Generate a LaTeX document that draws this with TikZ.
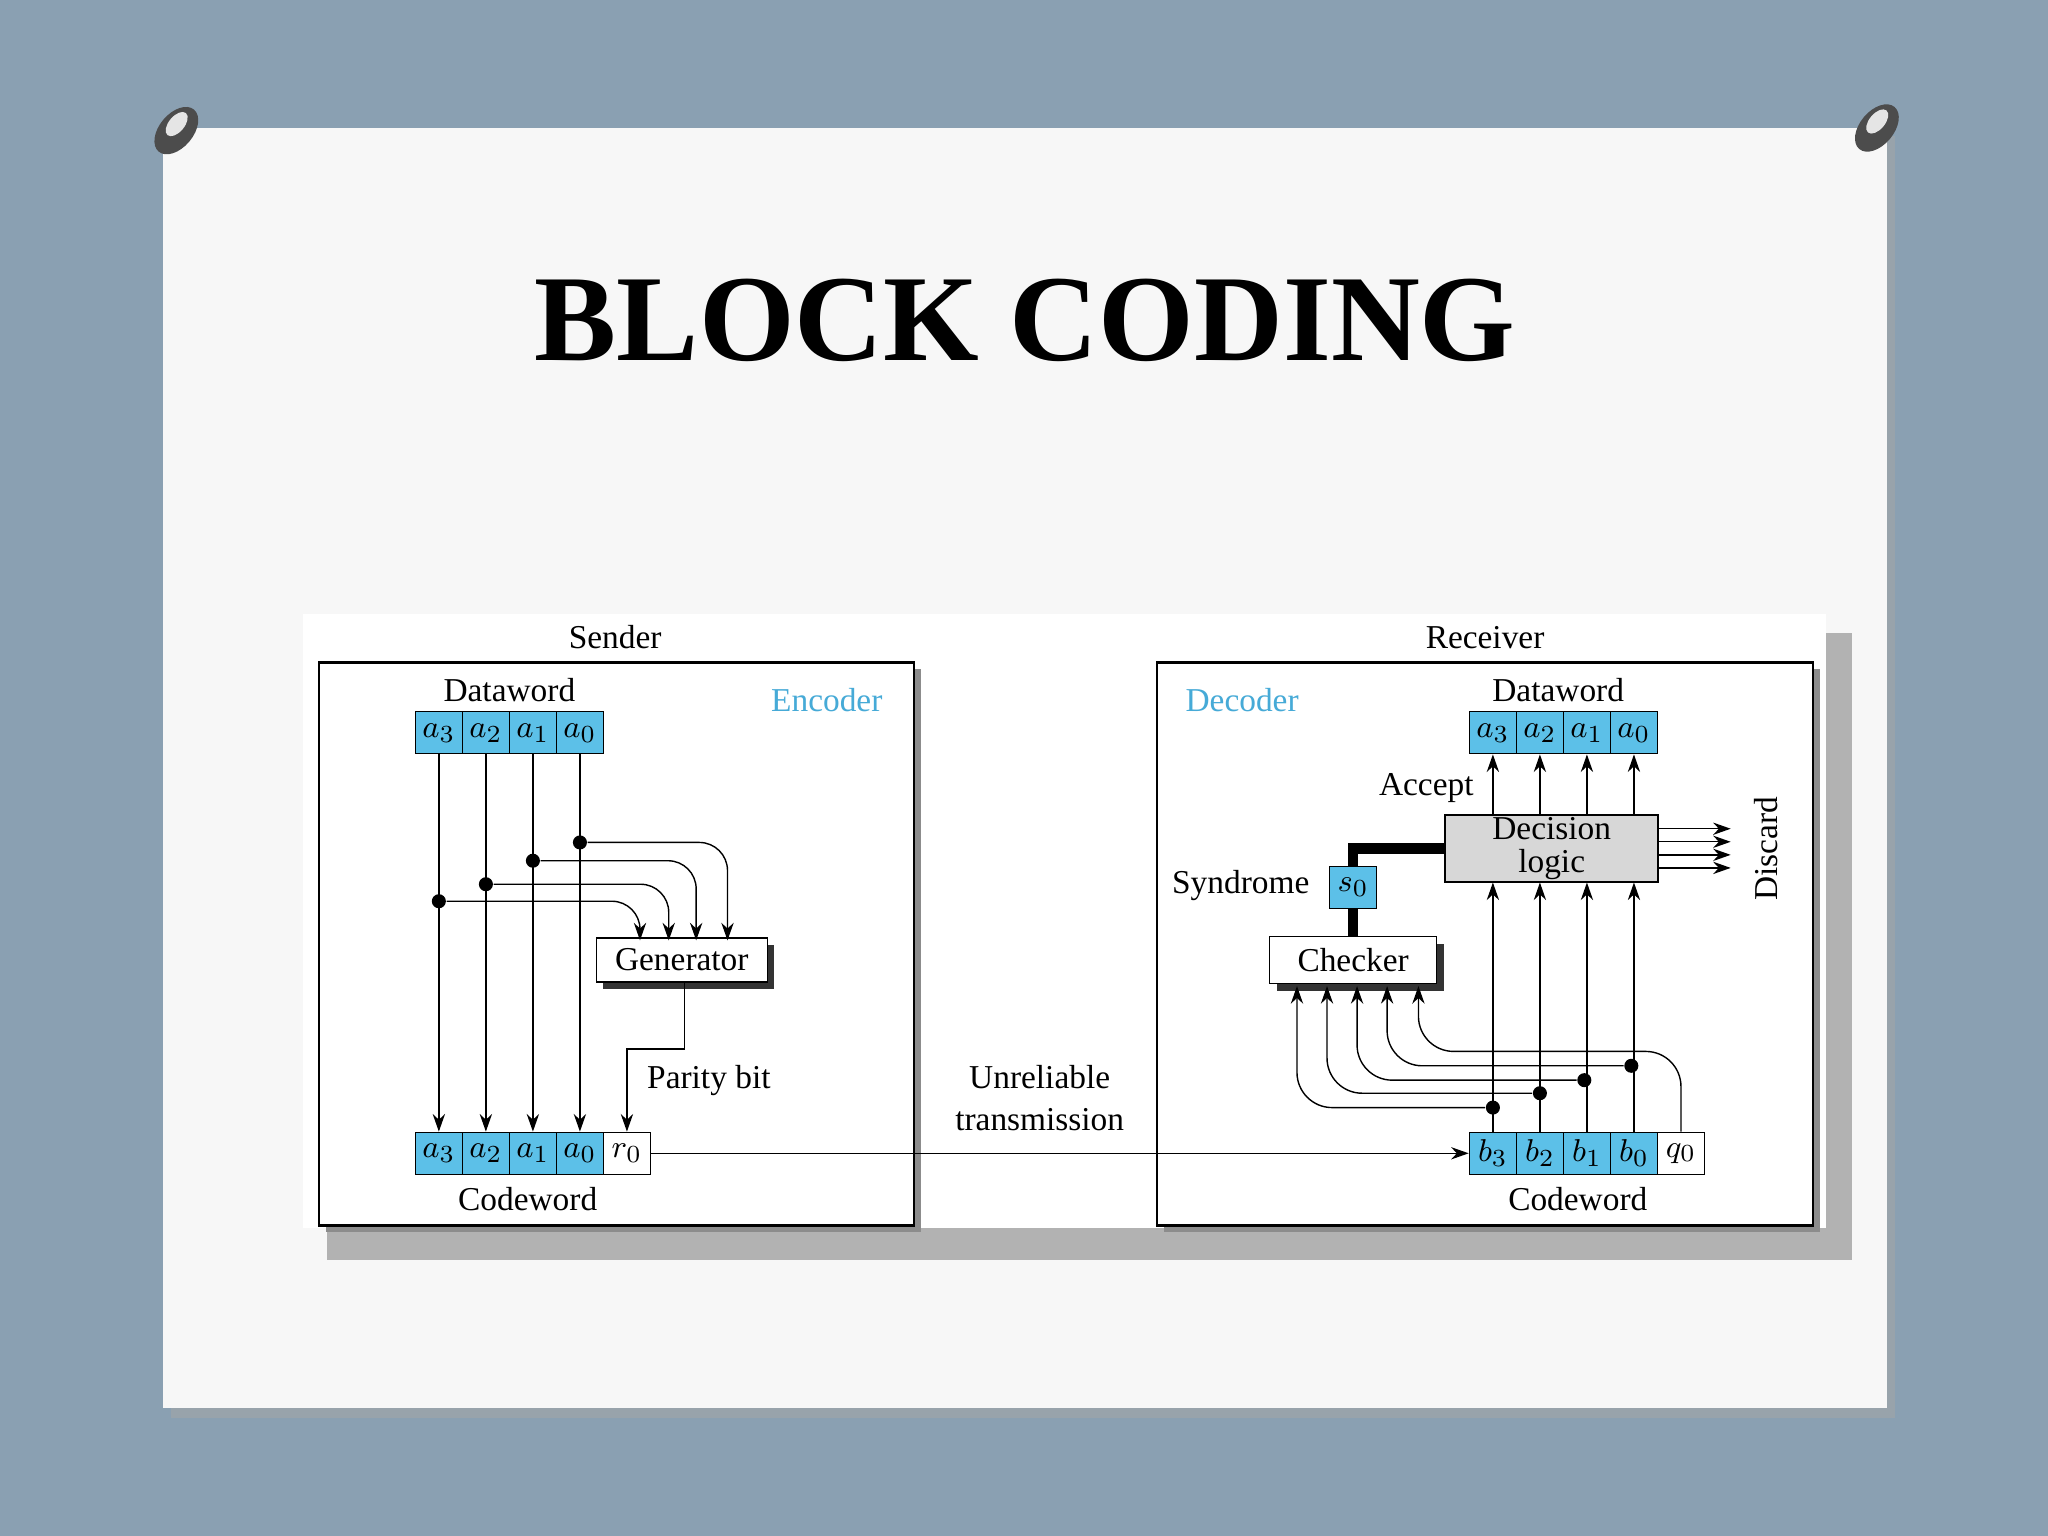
\documentclass[tikz,border=0pt]{standalone}
\usepackage{fontspec}
\setmainfont{Liberation Serif}
\usetikzlibrary{arrows.meta,shadows,calc}
\definecolor{slidebg}{RGB}{138,160,178}
\definecolor{cellblue}{RGB}{92,192,232}
\definecolor{labelblue}{RGB}{70,170,215}
\definecolor{logicgray}{RGB}{215,215,215}
\tikzset{
  cell/.style={draw, fill=cellblue, minimum width=0.47cm, minimum height=0.42cm, inner sep=0pt, font=\fontsize{9.5}{11}\selectfont},
  pcell/.style={cell, fill=white},
  blk/.style={draw, fill=white, inner sep=0pt, font=\fontsize{9.5}{11}\selectfont,
    drop shadow={opacity=1, fill=black!80, shadow xshift=2pt, shadow yshift=-2pt}},
  lbl/.style={font=\fontsize{9.5}{11}\selectfont},
  arr/.style={-{Stealth[length=5pt,width=3.5pt]}, thin},
  dot/.style={circle, fill, inner sep=0pt, minimum size=4pt}
}
\begin{document}
\begin{tikzpicture}[x=0.013061cm,y=-0.013061cm]
\useasboundingbox (0,0) rectangle (1568,1176);
% slide
\fill[slidebg] (0,0) rectangle (1568,1176);
\fill[black!35,opacity=.5] (131,104) rectangle (1451,1086);
\fill[white!97!black] (125,98) rectangle (1445,1078);
% pins
\foreach \px/\py in {135/100,1437/98}{
  \fill[gray!60!black, rotate around={-40:(\px,\py)}] (\px,\py) ellipse (13 and 21);
  \fill[gray!20, rotate around={-40:(\px,\py)}] ($(\px,\py)+(-3,-4)$) ellipse (6 and 11);
}
\node[font=\fontsize{35}{38}\selectfont\bfseries] (title) at (785,245) {BLOCK CODING};
% figure panel
\fill[black!30] (250,485) rectangle (1418,965);
\fill[white] (232,470) rectangle (1398,940);
\node[draw, thick, fill=white, minimum width=5.95cm, minimum height=5.63cm, inner sep=0pt,
  drop shadow={opacity=1, fill=black!45, shadow xshift=2pt, shadow yshift=-2pt}] (enc) at (472,722.5) {};
\node[draw, thick, fill=white, minimum width=6.56cm, minimum height=5.63cm, inner sep=0pt,
  drop shadow={opacity=1, fill=black!45, shadow xshift=2pt, shadow yshift=-2pt}] (dec) at (1137,722.5) {};
\node[lbl] (sender) at (471,488) {Sender};
\node[lbl] (receiver) at (1137,488) {Receiver};
\node[lbl, text=labelblue] (encoder) at (633,536) {Encoder};
\node[lbl, text=labelblue] (decoder) at (951,536) {Decoder};

% sender
\node[lbl] (sdw) at (390,528) {Dataword};
\node[cell] (sa3) at (336,561) {$a_3$};
\node[cell] (sa2) at (372,561) {$a_2$};
\node[cell] (sa1) at (408,561) {$a_1$};
\node[cell] (sa0) at (444,561) {$a_0$};
\node[cell] (ca3) at (336,883) {$a_3$};
\node[cell] (ca2) at (372,883) {$a_2$};
\node[cell] (ca1) at (408,883) {$a_1$};
\node[cell] (ca0) at (444,883) {$a_0$};
\node[pcell] (cr0) at (480,883) {$r_0$};
\node[lbl] (scw) at (404,918) {Codeword};
\node[blk, minimum width=1.71cm, minimum height=0.44cm] (gen) at (522,735) {Generator};
\node[lbl, anchor=west] (parity) at (486,827) {Parity bit};
\foreach \i in {3,2,1,0}{ \draw[arr] (sa\i) -- (ca\i); }
\node[dot] (j0) at (444,645) {};
\node[dot] (j1) at (408,659) {};
\node[dot] (j2) at (372,677) {};
\node[dot] (j3) at (336,690) {};
\coordinate (g3) at (490,720);
\coordinate (g2) at (512,720);
\coordinate (g1) at (533,720);
\coordinate (g0) at (557,720);
\foreach \i in {3,2,1,0}{ \draw[arr, rounded corners=8] (j\i) -| (g\i); }
\coordinate (pb1) at (524,803);
\draw[arr] (gen.south -| pb1) -- (pb1) -| (cr0.north);

% channel
\node[lbl, align=center, inner sep=0pt] (chan) at (796,841) {Unreliable\\[1pt]transmission};

% receiver
\node[lbl] (rdw) at (1193,528) {Dataword};
\node[cell] (ra3) at (1143,561) {$a_3$};
\node[cell] (ra2) at (1179,561) {$a_2$};
\node[cell] (ra1) at (1215,561) {$a_1$};
\node[cell] (ra0) at (1251,561) {$a_0$};
\node[cell] (rb3) at (1143,883) {$b_3$};
\node[cell] (rb2) at (1179,883) {$b_2$};
\node[cell] (rb1) at (1215,883) {$b_1$};
\node[cell] (rb0) at (1251,883) {$b_0$};
\node[pcell] (rq0) at (1287,883) {$q_0$};
\node[lbl] (rcw) at (1208,918) {Codeword};
\draw[arr] (cr0.east) -- (rb3.west);
\node[draw, fill=logicgray, minimum width=2.13cm, minimum height=0.67cm, inner sep=0pt,
  align=center, font=\fontsize{9.5}{9.5}\selectfont] (logic) at (1188,649.5) {Decision\\logic};
\node[lbl] (accept) at (1092,603) {Accept};
\node[lbl, rotate=90] (discard) at (1352,650) {Discard};
\foreach \i in {3,2,1,0}{
  \draw[arr] (logic.north -| ra\i) -- (ra\i.south);
  \draw[arr] (rb\i.north) -- (logic.south -| rb\i);
}
\foreach \dy in {-15,-5,5,15}{
  \coordinate (dc) at ($(logic.east)+(55,\dy)$);
  \draw[arr] (logic.east |- dc) -- (dc);
}
\node[cell] (s0) at (1036,679.5) {$s_0$};
\node[lbl, anchor=east] (syn) at (1012,678) {Syndrome};
\node[blk, minimum width=1.67cm, minimum height=0.47cm] (chk) at (1036,735) {Checker};
\draw[line width=3pt] (s0.north) |- (logic.west);
\draw[line width=3pt] (chk.north) -- (s0.south);
\node[dot] (k3) at (1143,848) {};
\node[dot] (k2) at (1179,837) {};
\node[dot] (k1) at (1213,827) {};
\node[dot] (k0) at (1249,816) {};
\coordinate (c3) at (993,755);
\coordinate (c2) at (1016,755);
\coordinate (c1) at (1039,755);
\coordinate (c0) at (1062,755);
\coordinate (cq) at (1086,755);
\foreach \i in {3,2,1,0}{ \draw[arr, rounded corners=10] (k\i) -| (c\i); }
\coordinate (qt) at (1287,805);
\draw[arr, rounded corners=10] (rq0.north) -- (qt) -| (cq);
\end{tikzpicture}
\end{document}
